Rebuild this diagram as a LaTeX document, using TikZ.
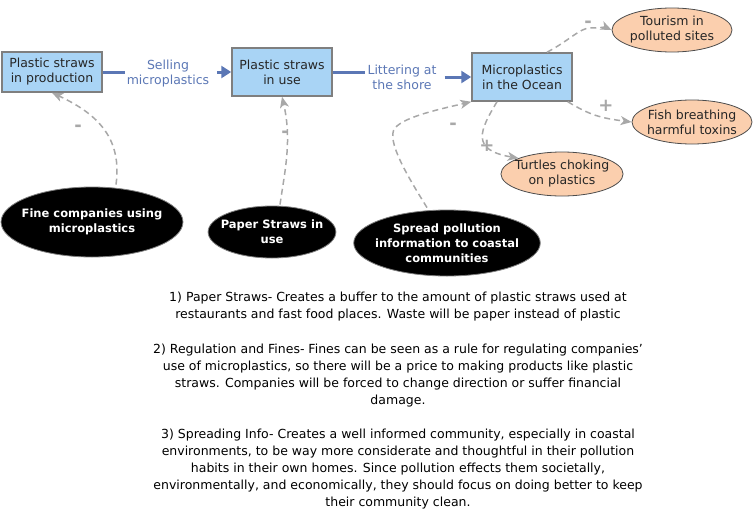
\documentclass[tikz,border=0pt]{standalone}
\usepackage{fontspec}
\setmainfont{DejaVu Sans}
\usetikzlibrary{shapes.geometric,arrows.meta}
\definecolor{boxfill}{HTML}{A9D4F5}
\definecolor{boxline}{HTML}{7F7F7F}
\definecolor{ovfill}{HTML}{FBCFAE}
\definecolor{linkblue}{HTML}{5B77B5}
\definecolor{dash}{HTML}{A8A8A8}
\begin{document}
\begin{tikzpicture}[x=1pt,y=-1pt,
  box/.style={draw=boxline,line width=1.5pt,fill=boxfill,minimum width=100pt,minimum height=40pt,inner sep=1pt,align=center,font=\fontsize{12.5}{15}\selectfont,text=black!85},
  ov/.style={ellipse,draw=black!70,fill=ovfill,line width=0.8pt,minimum width=120pt,minimum height=44pt,inner sep=-4pt,align=center,font=\fontsize{12.5}{15}\selectfont,text=black!85},
  bl/.style={ellipse,draw=gray,fill=black,line width=0.8pt,inner sep=-6pt,align=center,text=white,font=\bfseries\fontsize{11.5}{15}\selectfont},
  lab/.style={align=center,text=linkblue,font=\fontsize{12.5}{15}\selectfont,inner sep=2pt},
  blu/.style={draw=linkblue,line width=3pt},
  blua/.style={draw=linkblue,line width=3pt,-{Triangle[length=10pt,width=12pt]}},
  gd/.style={draw=dash,line width=1.5pt,dash pattern=on 6pt off 4pt,-{Stealth[length=11pt,width=9pt,inset=3pt]}},
  sg/.style={text=dash,font=\bfseries\fontsize{18}{18}\selectfont}]
\useasboundingbox (0,0) rectangle (754,514);
\node[box] (A) at (52,72) {Plastic straws\\in production};
\node[box,minimum height=48pt] (B) at (282,72) {Plastic straws\\in use};
\node[box,minimum height=48pt] (C) at (522,77) {Microplastics\\in the Ocean};
\node[ov] (T) at (672,30) {Tourism in\\polluted sites};
\node[ov] (F) at (692,122) {Fish breathing\\harmful toxins};
\node[ov] (U) at (562,174) {Turtles choking\\on plastics};
\node[bl,minimum width=140pt,minimum height=70pt] (FC) at (92,222) {Fine companies using\\microplastics};
\node[bl,minimum width=120pt,minimum height=52pt] (P) at (272,232) {Paper Straws in\\use};
\node[bl,minimum width=172pt,minimum height=66pt] (S) at (447,243) {Spread pollution\\information to coastal\\communities};
\node[lab] (L1) at (168,74) {Selling\\microplastics};
\node[lab] (L2) at (402,77) {Littering at\\the shore};
\draw[blu] (A.east) -- (A.east -| L1.west);
\draw[blua] (B.west -| L1.east) ++(6,0) -- (B.west);
\draw[blu] (B.east) -- (B.east -| L2.west);
\draw[blua] (C.west -| L2.east) ++(6,0) -- (C.west);
\draw[gd] (FC.north) ++(24,-2) .. controls (122,140) and (100,115) .. (A.south);
\draw[gd] (P.north) ++(8,-1) .. controls (285,170) and (292,140) .. (B.south);
\draw[gd] (S.north) ++(-20,-2) .. controls (410,180) and (385,140) .. (395,128) .. controls (405,116) and (445,108) .. (C.south west);
\draw[gd] (C.north) ++(25,0) .. controls (570,40) and (580,28) .. (590,28) .. controls (600,28) and (605,27) .. (T.west);
\draw[gd] (C.south east) ++(-5,0) .. controls (590,115) and (600,118) .. (F.west);
\draw[gd] (C.south) ++(-25,0) .. controls (480,130) and (470,150) .. (U.north west);
\node[sg] at (78,128) {-};
\node[sg] at (285,134) {-};
\node[sg] at (453,126) {-};
\node[sg] at (588,24) {-};
\node[sg] at (606,106) {+};
\node[sg] at (487,146) {+};
\node[align=center,font=\fontsize{12.5}{17.1}\selectfont,anchor=north,inner sep=0pt] (txt) at (398,292) {1) Paper Straws- Creates a buffer to the amount of plastic straws used at\\
restaurants and fast food places. Waste will be paper instead of plastic\\[17.1pt]
2) Regulation and Fines- Fines can be seen as a rule for regulating companies'\\
use of microplastics, so there will be a price to making products like plastic\\
straws. Companies will be forced to change direction or suffer financial\\
damage.\\[17.1pt]
3) Spreading Info- Creates a well informed community, especially in coastal\\
environments, to be way more considerate and thoughtful in their pollution\\
habits in their own homes. Since pollution effects them societally,\\
environmentally, and economically, they should focus on doing better to keep\\
their community clean.};
\end{tikzpicture}
\end{document}
